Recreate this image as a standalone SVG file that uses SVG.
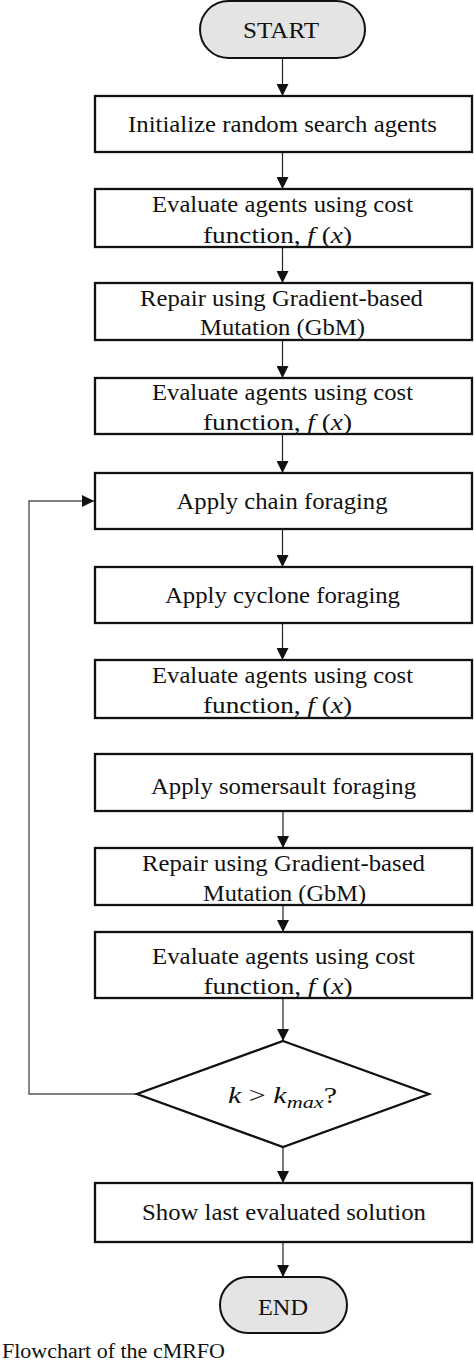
<svg xmlns="http://www.w3.org/2000/svg" width="474" height="1361" viewBox="0 0 474 1361">
<defs>
<style>
.box{fill:#fff;stroke:#111;stroke-width:2.3}
.term{fill:#e4e4e4;stroke:#111;stroke-width:2}
.t{font-family:"Liberation Serif","Times New Roman",serif;font-size:23px;fill:#111;text-anchor:middle}
.big{font-size:24px}
.i{font-style:italic}
.conn{fill:none;stroke:#222;stroke-width:1.2}
.loop{fill:none;stroke:#555;stroke-width:1.4}
</style>
<marker id="ah" markerUnits="userSpaceOnUse" markerWidth="12" markerHeight="12" refX="12" refY="6" orient="auto">
<path d="M0,0 L12,6 L0,12 z" fill="#111"/>
</marker>
</defs>
<rect width="474" height="1361" fill="#fff"/>

<g id="connectors">
<line class="conn" x1="282.5" y1="58" x2="282.5" y2="96" marker-end="url(#ah)"/>
<line class="conn" x1="282.5" y1="152" x2="282.5" y2="189" marker-end="url(#ah)"/>
<line class="conn" x1="282.5" y1="247" x2="282.5" y2="283" marker-end="url(#ah)"/>
<line class="conn" x1="282.5" y1="340" x2="282.5" y2="378" marker-end="url(#ah)"/>
<line class="conn" x1="282.5" y1="434" x2="282.5" y2="473" marker-end="url(#ah)"/>
<line class="conn" x1="282.5" y1="529" x2="282.5" y2="567" marker-end="url(#ah)"/>
<line class="conn" x1="282.5" y1="623" x2="282.5" y2="660" marker-end="url(#ah)"/>
<line class="conn" x1="283" y1="811" x2="283" y2="848" marker-end="url(#ah)"/>
<line class="conn" x1="283" y1="905" x2="283" y2="932" marker-end="url(#ah)"/>
<line class="conn" x1="283" y1="998" x2="283" y2="1041" marker-end="url(#ah)"/>
<line class="conn" x1="283" y1="1147" x2="283" y2="1183" marker-end="url(#ah)"/>
<line class="conn" x1="283" y1="1242" x2="283" y2="1277" marker-end="url(#ah)"/>
<polyline class="loop" points="137,1094 29,1094 29,501 94,501" marker-end="url(#ah)"/>
</g>

<g id="start">
<rect class="term" x="200" y="1" width="165" height="57" rx="28.5"/>
<text class="t big" x="281" y="38" textLength="76" lengthAdjust="spacingAndGlyphs">START</text>
</g>

<g id="init">
<rect class="box" x="95" y="96" width="377" height="56"/>
<text class="t" x="282.5" y="132" textLength="309" lengthAdjust="spacingAndGlyphs">Initialize random search agents</text>
</g>

<g id="eval1">
<rect class="box" x="95" y="189" width="377" height="58"/>
<text class="t" x="282.5" y="212" textLength="261" lengthAdjust="spacingAndGlyphs">Evaluate agents using cost</text>
<text class="t" x="277.5" y="243" textLength="149" lengthAdjust="spacingAndGlyphs">function, <tspan class="i">f</tspan> (<tspan class="i">x</tspan>)</text>
</g>

<g id="repair1">
<rect class="box" x="95" y="283" width="377" height="57"/>
<text class="t" x="281.5" y="306" textLength="283" lengthAdjust="spacingAndGlyphs">Repair using Gradient-based</text>
<text class="t" x="282.5" y="335" textLength="165" lengthAdjust="spacingAndGlyphs">Mutation (GbM)</text>
</g>

<g id="eval2">
<rect class="box" x="95" y="378" width="377" height="56"/>
<text class="t" x="282.5" y="400" textLength="261" lengthAdjust="spacingAndGlyphs">Evaluate agents using cost</text>
<text class="t" x="277.5" y="430" textLength="149" lengthAdjust="spacingAndGlyphs">function, <tspan class="i">f</tspan> (<tspan class="i">x</tspan>)</text>
</g>

<g id="chain">
<rect class="box" x="95" y="473" width="377" height="56"/>
<text class="t" x="282" y="509" textLength="211" lengthAdjust="spacingAndGlyphs">Apply chain foraging</text>
</g>

<g id="cyclone">
<rect class="box" x="95" y="567" width="377" height="56"/>
<text class="t" x="282.5" y="603" textLength="235" lengthAdjust="spacingAndGlyphs">Apply cyclone foraging</text>
</g>

<g id="eval3">
<rect class="box" x="95" y="660" width="377" height="58"/>
<text class="t" x="282.5" y="683" textLength="261" lengthAdjust="spacingAndGlyphs">Evaluate agents using cost</text>
<text class="t" x="277.5" y="713" textLength="149" lengthAdjust="spacingAndGlyphs">function, <tspan class="i">f</tspan> (<tspan class="i">x</tspan>)</text>
</g>

<g id="somersault">
<rect class="box" x="95" y="754" width="377" height="57"/>
<text class="t" x="283.5" y="794" textLength="265" lengthAdjust="spacingAndGlyphs">Apply somersault foraging</text>
</g>

<g id="repair2">
<rect class="box" x="95" y="848" width="377" height="57"/>
<text class="t" x="283.5" y="871" textLength="283" lengthAdjust="spacingAndGlyphs">Repair using Gradient-based</text>
<text class="t" x="284.5" y="901" textLength="163" lengthAdjust="spacingAndGlyphs">Mutation (GbM)</text>
</g>

<g id="eval4">
<rect class="box" x="95" y="932" width="377" height="66"/>
<text class="t" x="283.5" y="964" textLength="263" lengthAdjust="spacingAndGlyphs">Evaluate agents using cost</text>
<text class="t" x="278" y="994" textLength="149" lengthAdjust="spacingAndGlyphs">function, <tspan class="i">f</tspan> (<tspan class="i">x</tspan>)</text>
</g>

<g id="decision">
<polygon class="box" points="283,1041 429,1094 283,1147 137,1094"/>
<text class="t" x="282.5" y="1103" textLength="109" lengthAdjust="spacingAndGlyphs"><tspan class="i">k</tspan> &gt; <tspan class="i">k</tspan><tspan class="i" font-size="17" dy="5">max</tspan><tspan dy="-5">?</tspan></text>
</g>

<g id="show">
<rect class="box" x="95" y="1183" width="377" height="59"/>
<text class="t" x="284" y="1220" textLength="284" lengthAdjust="spacingAndGlyphs">Show last evaluated solution</text>
</g>

<g id="end">
<rect class="term" x="220" y="1277" width="127" height="56" rx="28"/>
<text class="t big" x="283" y="1315" textLength="50" lengthAdjust="spacingAndGlyphs">END</text>
</g>

<text x="2" y="1358" font-family="Liberation Serif, Times New Roman, serif" font-size="20" fill="#111" textLength="223" lengthAdjust="spacingAndGlyphs">Flowchart of the cMRFO</text>
</svg>
